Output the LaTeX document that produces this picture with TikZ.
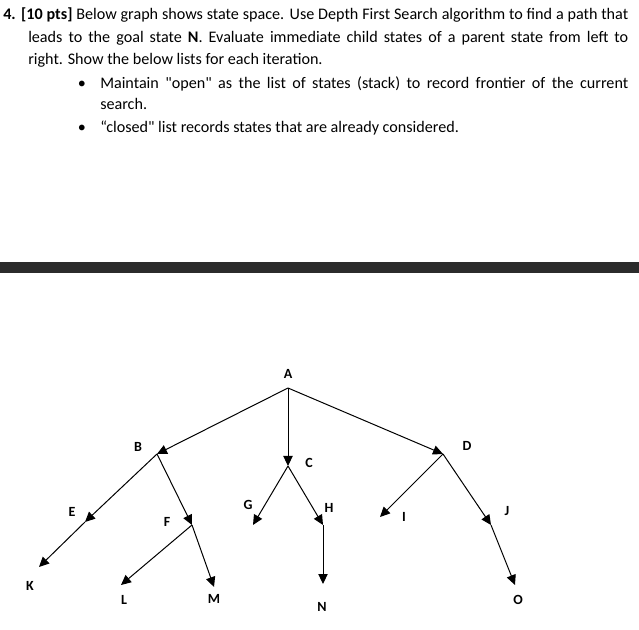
\documentclass[tikz,border=0pt]{standalone}
\usepackage{fontspec}
\setmainfont{Carlito}
\newfontfamily\qfont{Carlito}
\usepackage{xcolor}
\usetikzlibrary{arrows.meta,positioning}
\definecolor{barcol}{HTML}{2B2B2B}
\newcommand{\sq}{{\qfont"}}

\begin{document}
\begin{tikzpicture}[
    x=0.75pt,y=-0.75pt,
    state/.style={font=\bfseries\fontsize{10.5}{12}\selectfont,inner sep=0pt},
    textline/.style={anchor=base west,inner sep=0pt,font=\fontsize{12.1}{14}\selectfont},
    dot/.style={anchor=base,inner sep=0pt,font=\fontsize{12.1}{14}\selectfont},
    arrow/.style={-{Triangle[length=7.5pt,width=7pt]},line width=0.75pt}
  ]
    \useasboundingbox (0,0) rectangle (639,630);
    \node[textline] (q1) at (3,20) {\makebox[468.75pt][s]{\textbf{4. [10 pts]} Below graph shows state space. Use Depth First Search algorithm to find a path that}};
    \node[textline] (q2) at (28,43) {\makebox[450pt][s]{leads to the goal state \textbf{N}. Evaluate immediate child states of a parent state from left to}};
    \node[textline] (q3) at (28,65) {right. Show the below lists for each iteration.};
    \node[dot] (d1) at (82,89) {•};
    \node[textline] (b1) at (100,89) {\makebox[396pt][s]{Maintain \sq open\sq{} as the list of states (stack) to record frontier of the current}};
    \node[textline] (b2) at (100,110) {search.};
    \node[dot] (d2) at (82,133) {•};
    \node[textline] (b3) at (100,133) {“closed\sq{} list records states that are already considered.};
    \fill[barcol] (0,262) rectangle (639,273);
    \coordinate (a) at (288,388);
    \coordinate (b) at (157,454);
    \coordinate (c) at (288,466);
    \coordinate (d) at (443,454);
    \coordinate (e) at (85,522);
    \coordinate (f) at (192,525);
    \coordinate (g) at (253,525);
    \coordinate (h) at (323,525);
    \coordinate (i) at (380,517);
    \coordinate (j) at (491,525);
    \coordinate (k) at (39,567);
    \coordinate (l) at (121,585);
    \coordinate (m) at (214,587);
    \coordinate (n) at (323,584);
    \coordinate (o) at (515,585);
    \node[state] (la) at (288,374) {A};
    \node[state] (lb) at (138,447) {B};
    \node[state] (lc) at (309,463) {C};
    \node[state] (ld) at (467,446) {D};
    \node[state] (le) at (72,512) {E};
    \node[state] (lf) at (167,522) {F};
    \node[state] (lg) at (248,505) {G};
    \node[state] (lh) at (329,508) {H};
    \node[state] (li) at (404,517) {I};
    \node[state] (lj) at (507,511) {J};
    \node[state] (lk) at (30,586) {K};
    \node[state] (ll) at (124,600) {L};
    \node[state] (lm) at (214,599) {M};
    \node[state] (ln) at (322,607) {N};
    \node[state] (lo) at (518,600) {O};
    \draw[arrow] (a) -- (b);
    \draw[arrow] (a) -- (c);
    \draw[arrow] (a) -- (d);
    \draw[arrow] (b) -- (e);
    \draw[arrow] (b) -- (f);
    \draw[arrow] (c) -- (g);
    \draw[arrow] (c) -- (h);
    \draw[arrow] (d) -- (i);
    \draw[arrow] (d) -- (j);
    \draw[arrow] (e) -- (k);
    \draw[arrow] (f) -- (l);
    \draw[arrow] (f) -- (m);
    \draw[arrow] (h) -- (n);
    \draw[arrow] (j) -- (o);
\end{tikzpicture}
\end{document}
